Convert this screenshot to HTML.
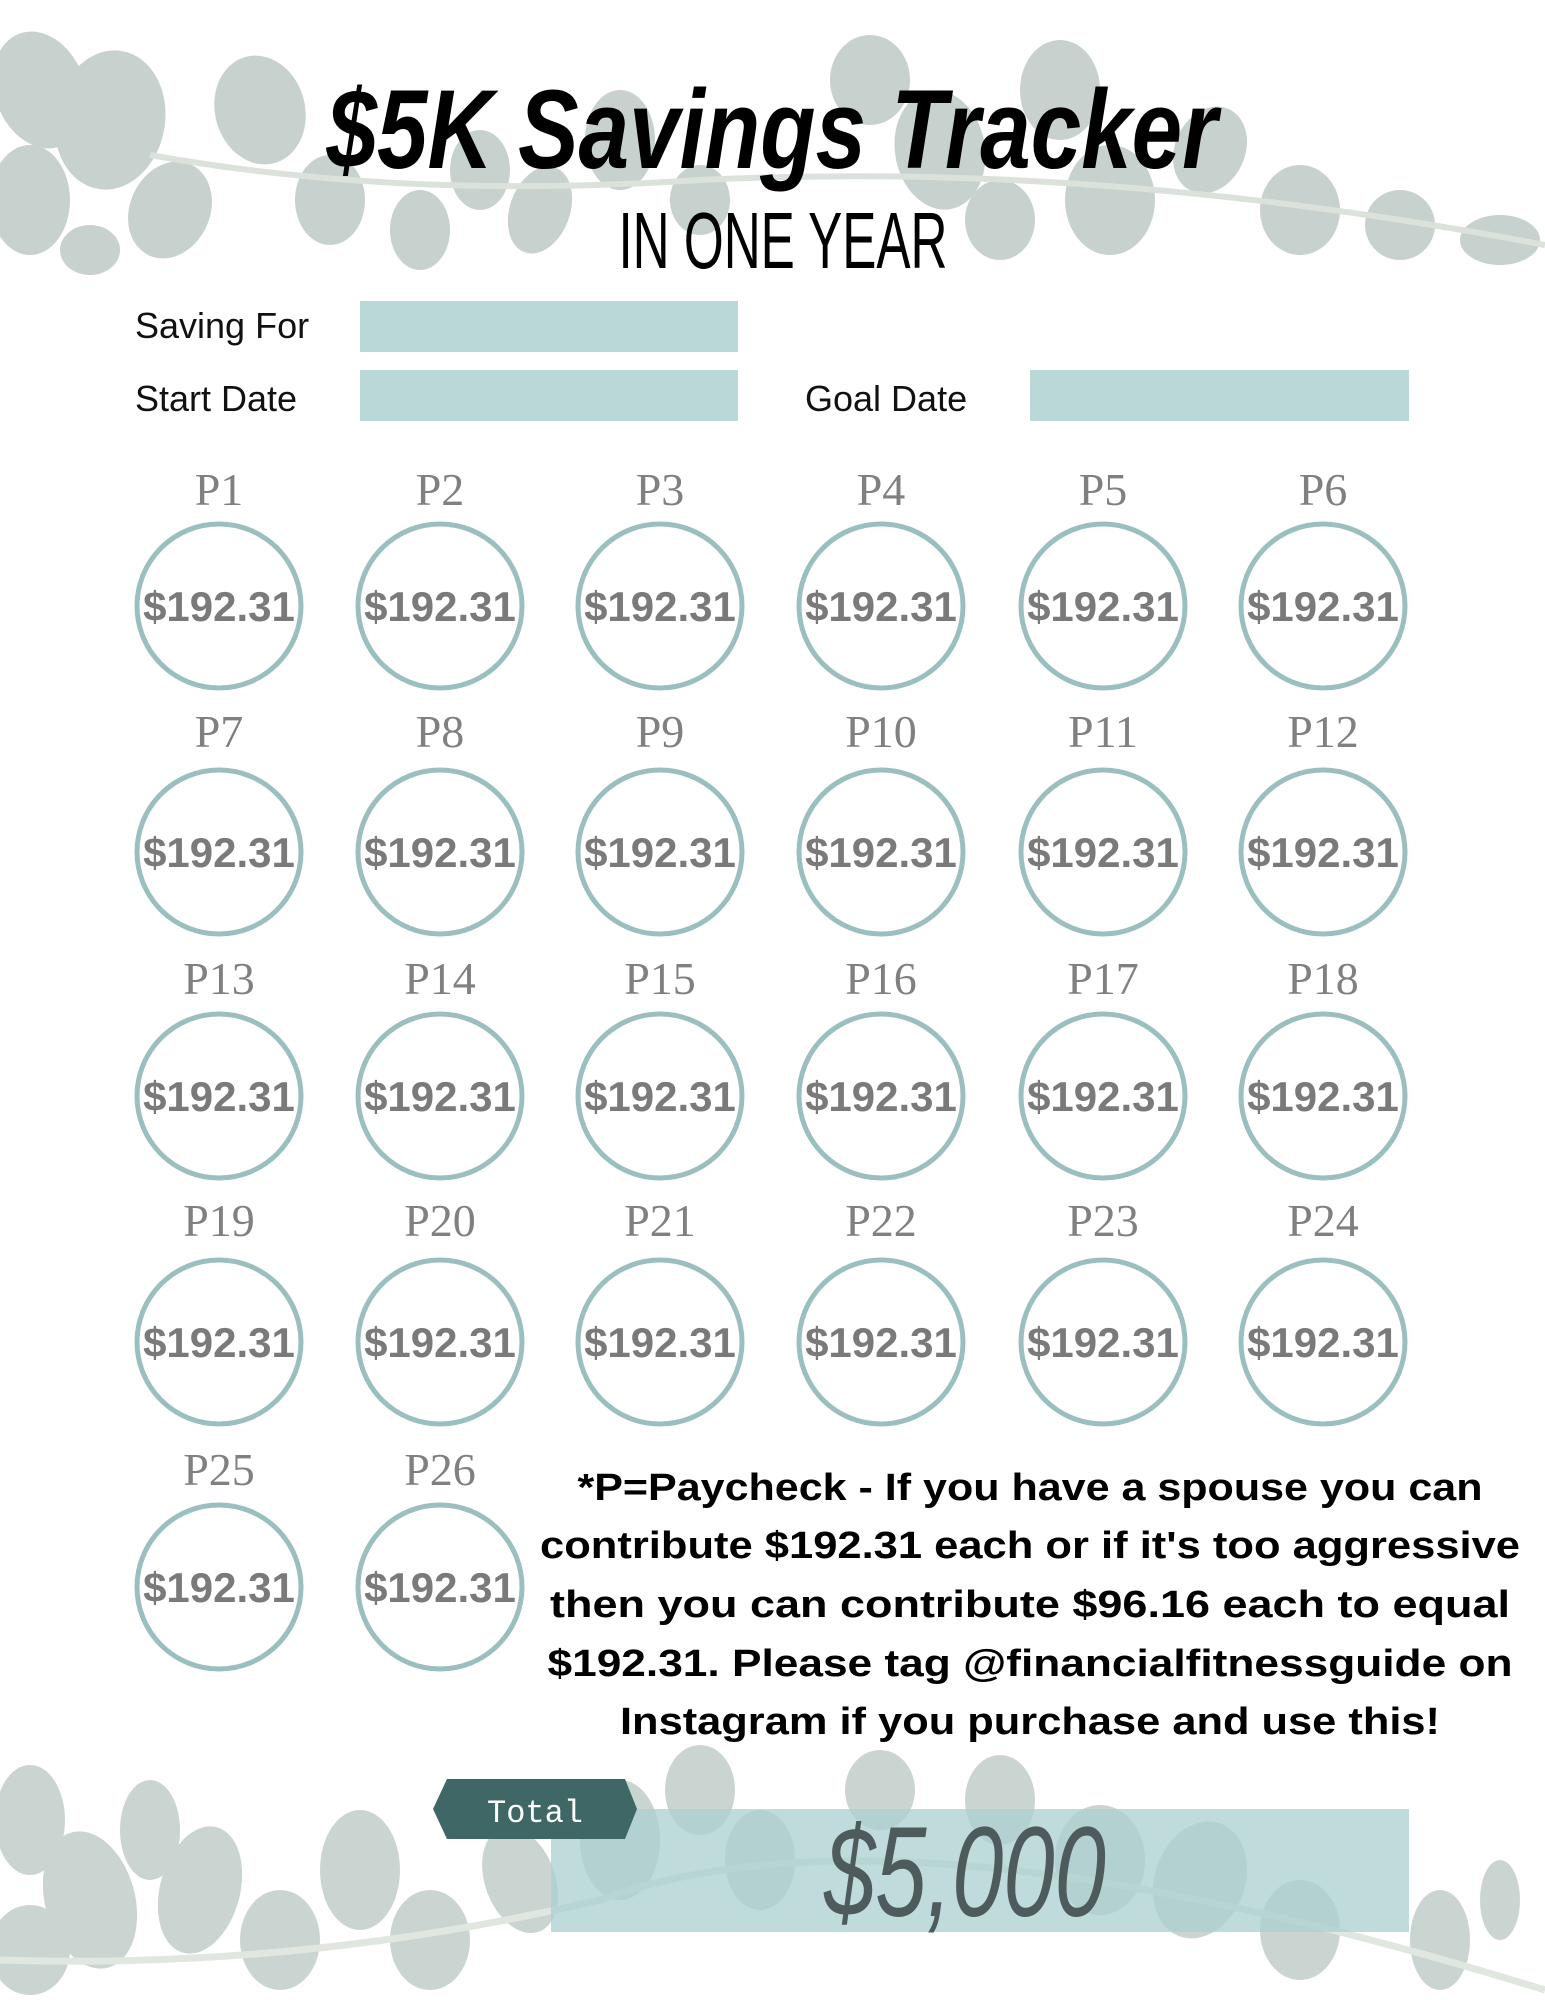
<!DOCTYPE html>
<html><head><meta charset="utf-8"><style>
html,body{margin:0;padding:0;background:#fff}
body{width:1545px;height:2000px;position:relative;overflow:hidden}
svg{position:absolute;left:0;top:0}
</style></head><body>
<svg width="1545" height="2000" viewBox="0 0 1545 2000" xmlns="http://www.w3.org/2000/svg">
<!-- top foliage -->
<g fill="#a3b3ac" opacity="0.6">
<ellipse cx="40" cy="90" rx="45" ry="60" transform="rotate(-20 40 90)"/>
<ellipse cx="110" cy="120" rx="55" ry="70" transform="rotate(10 110 120)"/>
<ellipse cx="30" cy="200" rx="40" ry="55"/>
<ellipse cx="170" cy="210" rx="40" ry="50" transform="rotate(25 170 210)"/>
<ellipse cx="90" cy="250" rx="30" ry="25"/>
<ellipse cx="260" cy="110" rx="45" ry="55" transform="rotate(-15 260 110)"/>
<ellipse cx="330" cy="200" rx="35" ry="45"/>
<ellipse cx="420" cy="230" rx="30" ry="40"/>
<ellipse cx="480" cy="170" rx="30" ry="40"/>
<ellipse cx="540" cy="210" rx="30" ry="45" transform="rotate(20 540 210)"/>
<ellipse cx="620" cy="140" rx="35" ry="50"/>
<ellipse cx="700" cy="200" rx="30" ry="35"/>
<ellipse cx="870" cy="80" rx="40" ry="45"/>
<ellipse cx="940" cy="150" rx="45" ry="60" transform="rotate(-10 940 150)"/>
<ellipse cx="1000" cy="220" rx="35" ry="40"/>
<ellipse cx="1060" cy="90" rx="40" ry="50"/>
<ellipse cx="1110" cy="200" rx="45" ry="55"/>
<ellipse cx="1210" cy="150" rx="35" ry="45" transform="rotate(25 1210 150)"/>
<ellipse cx="1300" cy="210" rx="40" ry="45"/>
<ellipse cx="1400" cy="225" rx="35" ry="35"/>
<ellipse cx="1500" cy="240" rx="40" ry="25"/>
<path d="M150 155 Q400 200 700 180 Q1100 160 1545 245" stroke="#c4d0c4" stroke-width="6" fill="none"/>
</g>
<!-- bottom foliage -->
<g fill="#9fb2ad" opacity="0.55">
<ellipse cx="30" cy="1820" rx="35" ry="55"/>
<ellipse cx="90" cy="1900" rx="45" ry="70" transform="rotate(-15 90 1900)"/>
<ellipse cx="30" cy="1950" rx="40" ry="45"/>
<ellipse cx="150" cy="1830" rx="30" ry="50"/>
<ellipse cx="200" cy="1890" rx="40" ry="65" transform="rotate(15 200 1890)"/>
<ellipse cx="280" cy="1940" rx="40" ry="50"/>
<ellipse cx="360" cy="1870" rx="40" ry="60"/>
<ellipse cx="430" cy="1940" rx="40" ry="50"/>
<ellipse cx="520" cy="1880" rx="35" ry="55" transform="rotate(-20 520 1880)"/>
<ellipse cx="620" cy="1840" rx="40" ry="60"/>
<ellipse cx="700" cy="1790" rx="35" ry="45"/>
<ellipse cx="760" cy="1860" rx="35" ry="50"/>
<ellipse cx="880" cy="1790" rx="35" ry="40"/>
<ellipse cx="1000" cy="1800" rx="35" ry="45"/>
<ellipse cx="1100" cy="1860" rx="45" ry="55"/>
<ellipse cx="1200" cy="1880" rx="45" ry="60" transform="rotate(20 1200 1880)"/>
<ellipse cx="1300" cy="1930" rx="40" ry="50"/>
<ellipse cx="1440" cy="1940" rx="30" ry="50"/>
<ellipse cx="1500" cy="1900" rx="20" ry="40"/>
<path d="M0 1960 Q300 1970 600 1900 Q900 1790 1545 1990" stroke="#c5d3c6" stroke-width="7" fill="none"/>
</g>
<!-- title -->
<text x="772" y="168" text-anchor="middle" font-family="Liberation Sans, sans-serif" font-weight="bold" font-style="italic" font-size="112" fill="#000" transform="translate(772 0) scale(0.81 1) translate(-772 0)">$5K Savings Tracker</text>
<text x="783" y="268" text-anchor="middle" font-family="Liberation Sans Narrow, Liberation Sans, sans-serif" font-size="80" fill="#000" transform="translate(783 0) scale(0.64 1) translate(-783 0)">IN ONE YEAR</text>
<!-- fields -->
<g font-family="Liberation Sans, sans-serif" font-size="36" fill="#111">
<text x="135" y="338">Saving For</text>
<text x="135" y="411">Start Date</text>
<text x="805" y="411">Goal Date</text>
</g>
<g fill="#bad8d8">
<rect x="360" y="301" width="378" height="51"/>
<rect x="360" y="370" width="378" height="51"/>
<rect x="1030" y="370" width="379" height="51"/>
</g>
<g id="grid" font-family="Liberation Sans, sans-serif"></g>
<!-- note -->
<g font-family="Liberation Sans, sans-serif" font-weight="bold" font-size="38" fill="#000" text-anchor="middle">
<text x="1030" y="1500" textLength="905" lengthAdjust="spacingAndGlyphs">*P=Paycheck - If you have a spouse you can</text>
<text x="1030" y="1558" textLength="980" lengthAdjust="spacingAndGlyphs">contribute $192.31 each or if it's too aggressive</text>
<text x="1030" y="1617" textLength="960" lengthAdjust="spacingAndGlyphs">then you can contribute $96.16 each to equal</text>
<text x="1030" y="1676" textLength="965" lengthAdjust="spacingAndGlyphs">$192.31.  Please tag @financialfitnessguide on</text>
<text x="1030" y="1734" textLength="820" lengthAdjust="spacingAndGlyphs">Instagram if you purchase and use this!</text>
</g>
<!-- total -->
<rect x="551" y="1809" width="858" height="123" fill="#a9cfcf" opacity="0.75"/>
<polygon points="447,1779 625,1779 637,1809 625,1839 447,1839 433,1809" fill="#3f6765"/>
<text x="535" y="1822" text-anchor="middle" font-family="Liberation Mono, monospace" font-size="32" fill="#fff">Total</text>
<text x="965" y="1916" text-anchor="middle" font-family="Liberation Sans, sans-serif" font-style="italic" font-size="128" fill="#4e5b5c" transform="translate(965 0) scale(0.72 1) translate(-965 0)">$5,000</text>
</svg>
<script>
var g=document.getElementById('grid'),ns='http://www.w3.org/2000/svg';
var xs=[219,440,660,881,1103,1323],ys=[606,852,1096,1342,1587],ly=[505,747,994,1236,1485];
var n=1;
for(var r=0;r<5;r++)for(var c=0;c<6;c++){if(n>26)break;
var ci=document.createElementNS(ns,'circle');ci.setAttribute('cx',xs[c]);ci.setAttribute('cy',ys[r]);ci.setAttribute('r',82);ci.setAttribute('fill','none');ci.setAttribute('stroke','#9bbfbf');ci.setAttribute('stroke-width','5');g.appendChild(ci);
var t=document.createElementNS(ns,'text');t.setAttribute('x',xs[c]);t.setAttribute('y',ys[r]+15);t.setAttribute('text-anchor','middle');t.setAttribute('font-size','42');t.setAttribute('font-weight','bold');t.setAttribute('fill','#7a7a7a');t.textContent='$192.31';g.appendChild(t);
var l=document.createElementNS(ns,'text');l.setAttribute('x',xs[c]);l.setAttribute('y',ly[r]);l.setAttribute('text-anchor','middle');l.setAttribute('font-size','46');l.setAttribute('font-family','Liberation Serif, serif');l.setAttribute('fill','#808080');l.textContent='P'+n;g.appendChild(l);
n++;}
</script>
</body></html>
